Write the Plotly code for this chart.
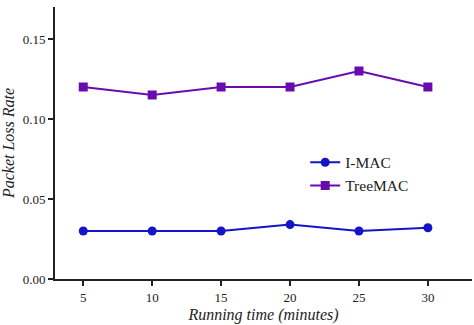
import plotly.graph_objects as go

minutes = [5, 10, 15, 20, 25, 30]
imac_loss = [0.030, 0.030, 0.030, 0.034, 0.030, 0.032]
treemac_loss = [0.120, 0.115, 0.120, 0.120, 0.130, 0.120]
y_ticks = [0.00, 0.05, 0.10, 0.15]
y_tick_labels = ["0.00", "0.05", "0.10", "0.15"]

serif = "Liberation Serif"

fig = go.Figure()
fig.add_trace(go.Scatter(
    x=minutes, y=imac_loss, name="I-MAC", mode="lines+markers",
    line=dict(color="#1414C8", width=2),
    marker=dict(symbol="circle", size=9, color="#1414C8"),
))
fig.add_trace(go.Scatter(
    x=minutes, y=treemac_loss, name="TreeMAC", mode="lines+markers",
    line=dict(color="#6A0BB0", width=2),
    marker=dict(symbol="square", size=9, color="#6A0BB0"),
))

fig.update_layout(
    width=474, height=325,
    margin=dict(l=55, r=2, t=7, b=46),
    paper_bgcolor="white", plot_bgcolor="white",
    font=dict(family=serif, size=13, color="#222"),
    legend=dict(
        x=0.6, y=0.49, xanchor="left", yanchor="top",
        bgcolor="rgba(0,0,0,0)", font=dict(family=serif, size=15.5),
        itemwidth=30, tracegroupgap=0,
    ),
)
fig.update_xaxes(
    range=[2.95, 33.2], tickvals=minutes, ticks="outside", ticklen=5,
    tickwidth=1.5, tickcolor="#222", showline=True, linecolor="#222",
    linewidth=2, showgrid=False, zeroline=False,
    title=dict(text="<i>Running time (minutes)</i>", font=dict(size=16), standoff=5),
)
fig.update_yaxes(
    range=[0, 0.17], tickvals=y_ticks, ticktext=y_tick_labels, ticks="outside",
    ticklen=5, tickwidth=1.5, tickcolor="#222", showline=True, linecolor="#222",
    linewidth=2, showgrid=False, zeroline=False,
    title=dict(text="<i>Packet Loss Rate</i>", font=dict(size=16), standoff=8),
)

fig.write_html("out.html")
